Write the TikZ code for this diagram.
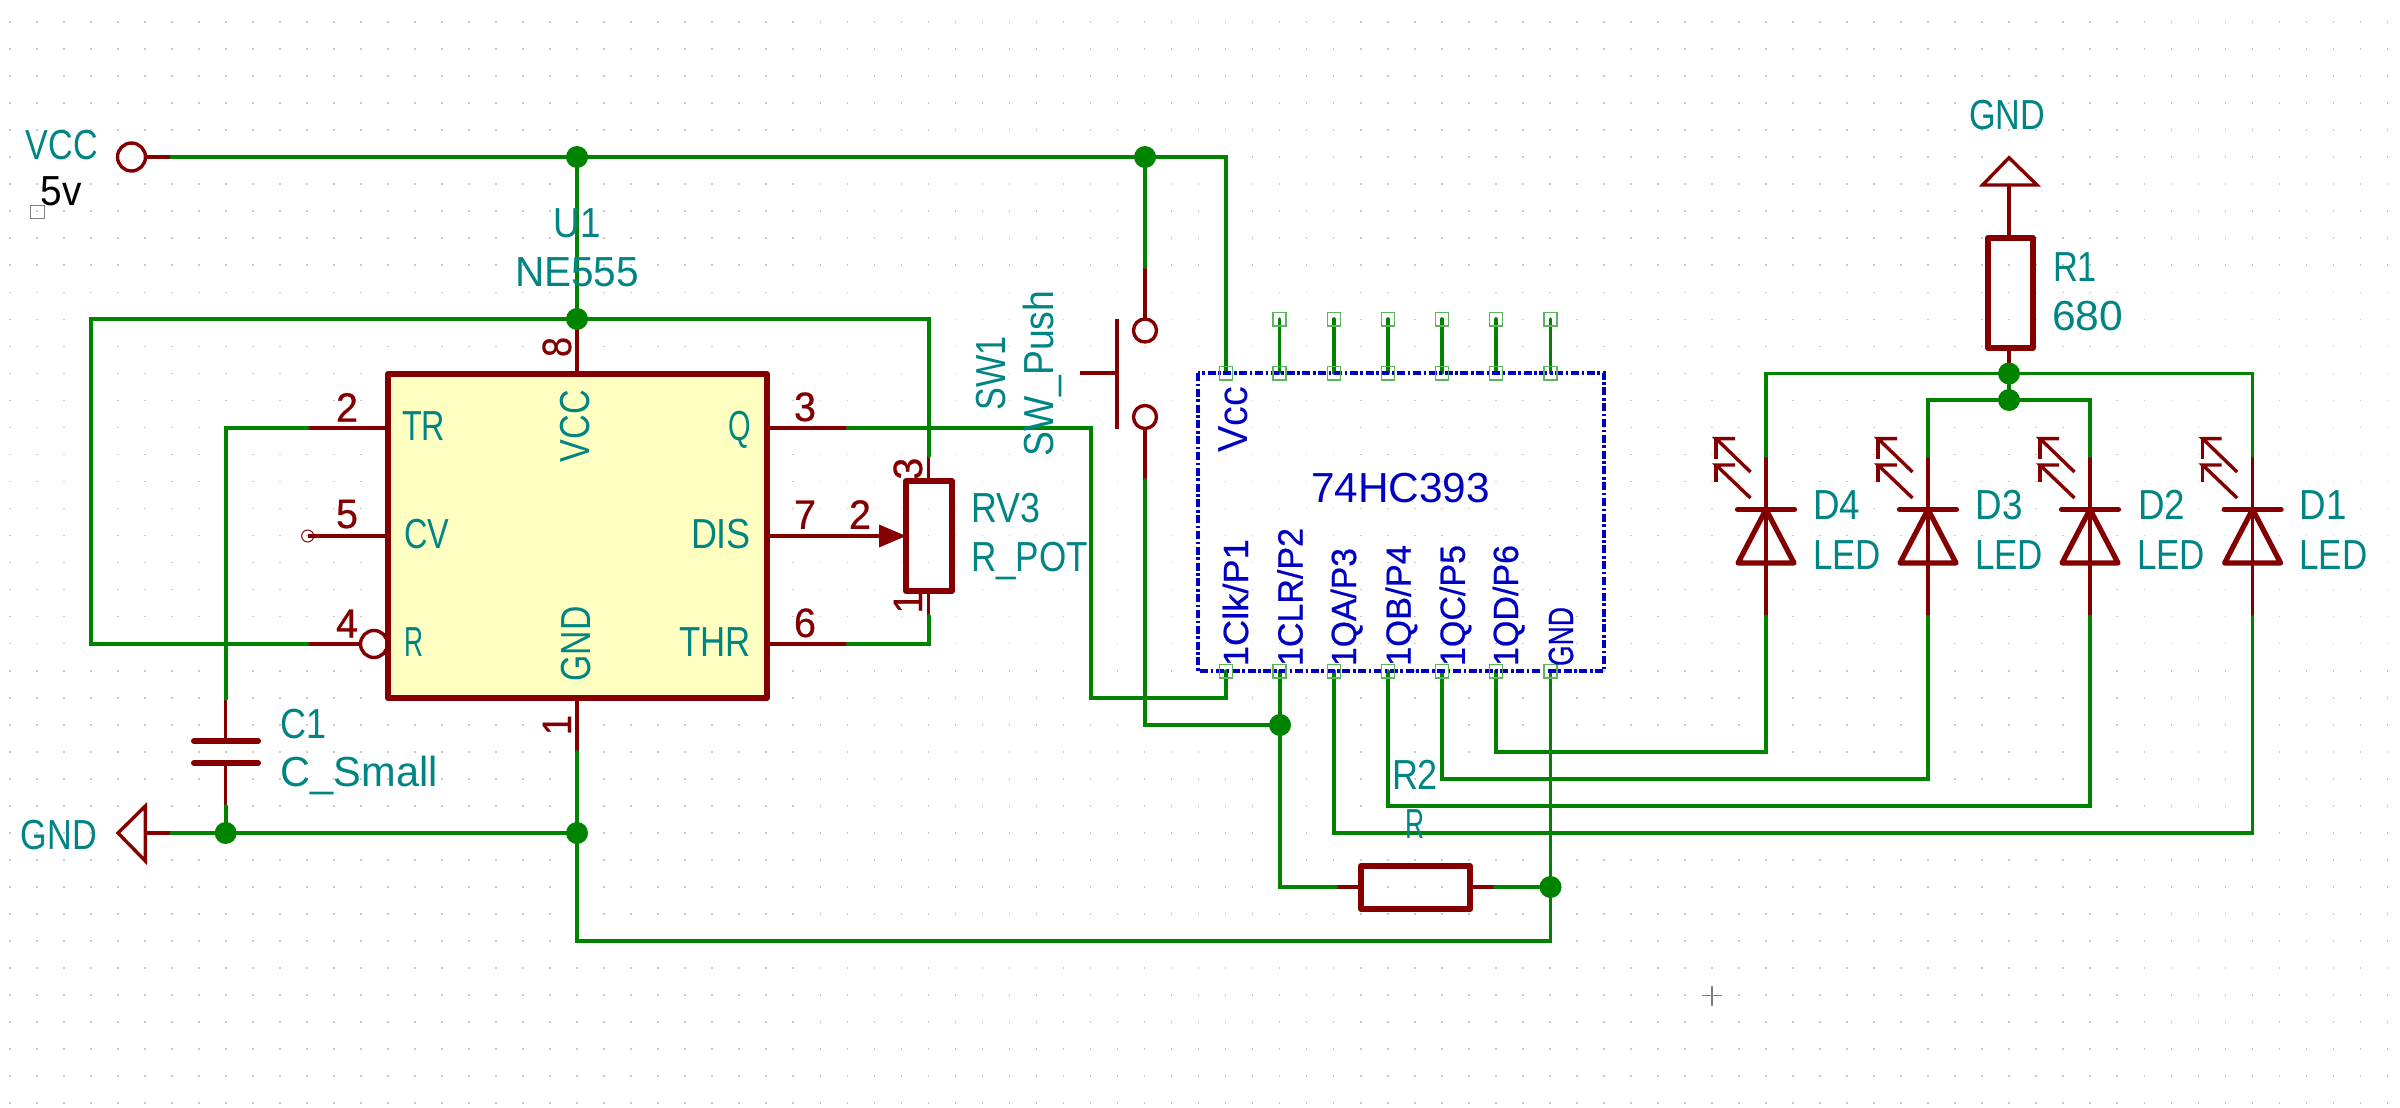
\documentclass[tikz,border=0pt]{standalone}
\usepackage{fontspec}
\usepackage{graphicx}
\setmainfont{Liberation Sans}
\newfontfamily\heavyf[FakeBold=0.6]{Liberation Sans}
\definecolor{kwire}{RGB}{0,132,0}
\definecolor{kred}{RGB}{132,0,0}
\definecolor{kteal}{RGB}{0,132,132}
\definecolor{kblue}{RGB}{0,0,194}
\definecolor{kfill}{RGB}{255,255,194}
\definecolor{kpad}{RGB}{90,180,90}
\definecolor{kdot}{RGB}{200,200,200}
\newdimen\pxu \pxu=0.5pt
\newcommand{\fw}[2]{\resizebox{#1\pxu}{\height}{#2}}
\tikzset{
  wire/.style={draw=kwire,line width=1.8pt,line join=miter,line cap=round},
  pinline/.style={draw=kred,line width=1.6pt},
  body/.style={draw=kred,line width=3pt,line join=round,line cap=round},
  thinbody/.style={draw=kred,line width=1.7pt,line join=miter},
  junct/.style={fill=kwire,draw=none},
  tl/.style={kteal,anchor=base,inner sep=0pt,font=\fontsize{21}{21}\selectfont},
  pn/.style={kred,anchor=base,inner sep=0pt,font=\heavyf\fontsize{20.5}{21}\selectfont},
  bl/.style={kblue,anchor=base,inner sep=0pt,font=\heavyf\fontsize{17.5}{21}\selectfont},
  blbig/.style={kblue,anchor=base,inner sep=0pt,font=\fontsize{21}{21}\selectfont},
  pad/.style={draw=kpad,line width=0.65pt},
}
\begin{document}
\begin{tikzpicture}[x=0.5pt,y=-0.5pt]
\useasboundingbox (0,0) rectangle (2400,1108);
\fill[white] (0,0) rectangle (2400,1108);
% grid
\foreach \i in {0,...,88}{\foreach \j in {0,...,40}{
  \fill[kdot] ({9.7+27.02*\i-0.8},{22+27.03*\j-0.8}) rectangle ++(1.6,1.6);}}
% named points
\coordinate (vccend) at (171.4,157);
\coordinate (jTop) at (577,157);
\coordinate (jSw) at (1145,157);
\coordinate (cVcc) at (1226,157);
\coordinate (pVcc) at (1226,373);
\coordinate (j8) at (577,319);
\coordinate (cRT) at (90.7,319);
\coordinate (cRB) at (90.7,644);
\coordinate (rEnd) at (307.7,644);
\coordinate (cPot) at (928.7,319);
\coordinate (potT) at (928.7,456);
\coordinate (potB) at (928.7,616);
\coordinate (cPotB) at (928.7,644);
\coordinate (thrEnd) at (847.7,644);
\coordinate (trEnd) at (307.7,428);
\coordinate (cTr) at (225.7,428);
\coordinate (capT) at (225.7,699);
\coordinate (capB) at (225.7,806);
\coordinate (jC) at (225.7,833);
\coordinate (gndEnd) at (171.4,833);
\coordinate (jG) at (577,833);
\coordinate (pin1End) at (577,752);
\coordinate (cG) at (577,941);
\coordinate (cG2) at (1550.5,941);
\coordinate (pGnd) at (1550.5,671);
\coordinate (qEnd) at (847.7,428);
\coordinate (cQ) at (1090.7,428);
\coordinate (cQ2) at (1090.7,698);
\coordinate (cQ3) at (1226,698);
\coordinate (pClk) at (1226,671);
\coordinate (swT) at (1145,267);
\coordinate (swB) at (1145,480);
\coordinate (cSw) at (1145,725);
\coordinate (jClr) at (1280,725);
\coordinate (pClr) at (1280,671);
\coordinate (cClr) at (1280,887);
\coordinate (rL) at (1336,887);
\coordinate (rR) at (1495,887);
\coordinate (jR) at (1550.5,887);
\coordinate (pQA) at (1334,671);
\coordinate (pQB) at (1388,671);
\coordinate (pQC) at (1442,671);
\coordinate (pQD) at (1496,671);
\coordinate (cQA) at (1334,833);
\coordinate (cQB) at (1388,806);
\coordinate (cQC) at (1442,779);
\coordinate (cQD) at (1496,752);
\coordinate (d1B) at (2252.6,616.5);
\coordinate (d2B) at (2090,616.5);
\coordinate (d3B) at (1928,616.5);
\coordinate (d4B) at (1766,616.5);
\coordinate (d1T) at (2252.6,456);
\coordinate (d2T) at (2090,456);
\coordinate (d3T) at (1928,456);
\coordinate (d4T) at (1766,456);
\coordinate (cD1) at (2252.6,373.5);
\coordinate (cD4) at (1766,373.5);
\coordinate (cD2) at (2090,400);
\coordinate (cD3) at (1928,400);
\coordinate (j1) at (2009,373.5);
\coordinate (j2) at (2009,400);
\coordinate (r1T) at (2009,238);
\coordinate (r1B) at (2009,348);
\coordinate (gndT) at (2009,185);
% IC box
\draw[body,fill=kfill] (388,374) rectangle (767,698);
% pins U1
\draw[pinline] (j8) -- (577,374);
\draw[pinline] (577,698) -- (pin1End);
\draw[pinline] (trEnd) -- (388,428);
\draw[pinline] (307.7,536) -- (388,536);
\draw[pinline] (rEnd) -- (361,644);
\draw[thinbody] (374,644) circle (13.5);
\draw[pinline] (767,428) -- (qEnd);
\draw[pinline] (767,536) -- (880,536);
\draw[pinline] (767,644) -- (thrEnd);
\draw[draw=kred,line width=0.5pt] (307.7,536) circle (6);
% VCC symbol
\draw[thinbody] (131.5,157) circle (14);
\draw[pinline] (145.5,157) -- (vccend);
% GND left
\draw[thinbody,fill=white] (145.4,806) -- (118,833) -- (145.4,861) -- cycle;
\draw[pinline] (145.4,833) -- (gndEnd);
% C1
\draw[pinline] (capT) -- (225.7,741);
\draw[pinline] (225.7,763) -- (capB);
\draw[draw=kred,line width=3pt,line cap=round] (194,741) -- (258,741);
\draw[draw=kred,line width=3pt,line cap=round] (194,763) -- (258,763);
% Pot
\draw[pinline] (potT) -- (928.7,481);
\draw[pinline] (928.7,591) -- (potB);
\draw[body] (906,481) rectangle (952,591);
\fill[kred] (906,536) -- (879,524.5) -- (879,547.5) -- cycle;
% Switch
\draw[pinline] (swT) -- (1145,319);
\draw[thinbody] (1145,330.5) circle (11.5);
\draw[thinbody] (1145,417) circle (11.5);
\draw[pinline] (1145,428.5) -- (swB);
\draw[pinline] (1117,319) -- (1117,428.5);
\draw[pinline] (1079.6,373) -- (1117,373);
% R (bottom)
\draw[pinline] (rL) -- (1360,887);
\draw[pinline] (1470,887) -- (rR);
\draw[body] (1361,866) rectangle (1470,909);
% R1
\draw[pinline] (gndT) -- (r1T);
\draw[pinline] (r1B) -- (j1);
\draw[body] (1988,238) rectangle (2032.6,348);
\draw[thinbody] (1982.6,185) -- (2009,157.7) -- (2037,185) -- cycle;
% LEDs
\foreach \x in {1766,1928,2090,2252.6}{
  \draw[pinline] (\x,456) -- (\x,616.5);
  \draw[draw=kred,line width=2.6pt,line cap=round,line join=round] (\x-28.5,509.4) -- (\x+28.5,509.4);
  \draw[draw=kred,line width=2.6pt,line cap=round,line join=round] (\x,509.4) -- (\x-28,563) -- (\x+28,563) -- cycle;
  \draw[draw=kred,line width=1.7pt] (\x-15.5,472) -- (\x-50,438.6) -- (\x-31,438.6);
  \draw[draw=kred,line width=1.7pt] (\x-50,438.6) -- (\x-50,459);
  \draw[draw=kred,line width=1.7pt] (\x-15.5,498) -- (\x-50,465) -- (\x-31,465);
  \draw[draw=kred,line width=1.7pt] (\x-50,465) -- (\x-50,482);
}
% wires
\draw[wire] (vccend) -- (jSw) -- (cVcc) -- (pVcc);
\draw[wire] (jTop) -- (j8);
\draw[wire] (j8) -- (cRT) -- (cRB) -- (rEnd);
\draw[wire] (j8) -- (cPot) -- (potT);
\draw[wire] (potB) -- (cPotB) -- (thrEnd);
\draw[wire] (trEnd) -- (cTr) -- (capT);
\draw[wire] (capB) -- (jC);
\draw[wire] (gndEnd) -- (jC) -- (jG);
\draw[wire] (pin1End) -- (jG) -- (cG) -- (cG2) -- (pGnd);
\draw[wire] (qEnd) -- (cQ) -- (cQ2) -- (cQ3) -- (pClk);
\draw[wire] (jSw) -- (swT);
\draw[wire] (swB) -- (cSw) -- (jClr);
\draw[wire] (pClr) -- (jClr) -- (cClr) -- (rL);
\draw[wire] (rR) -- (jR);
\draw[wire] (pQA) -- (cQA) -- (cQA -| d1B) -- (d1B);
\draw[wire] (pQB) -- (cQB) -- (cQB -| d2B) -- (d2B);
\draw[wire] (pQC) -- (cQC) -- (cQC -| d3B) -- (d3B);
\draw[wire] (pQD) -- (cQD) -- (cQD -| d4B) -- (d4B);
\draw[wire] (d4T) -- (cD4) -- (cD1) -- (d1T);
\draw[wire] (d3T) -- (cD3) -- (cD2) -- (d2T);
\draw[wire] (j1) -- (j2);
\foreach \x in {1279.6,1333.7,1388,1441.8,1496,1550.5}{
  \draw[wire] (\x,319) -- (\x,373);
  \draw[pad] (\x-6.5,312.5) rectangle (\x+6.5,326);
}
% 74HC393 sheet
\draw[draw=kblue,line width=1.6pt,dash pattern=on 4pt off 1.3pt on 1.3pt off 1.3pt] (1198,373) rectangle (1604,671);
\foreach \x in {1226,1279.6,1333.7,1388,1441.8,1496,1550.5}{
  \draw[pad] (\x-6.5,366.5) rectangle (\x+6.5,380);
  \draw[pad] (\x-6.5,664.5) rectangle (\x+6.5,678);
}
% junctions
\foreach \p in {jTop,jSw,j8,jC,jG,jClr,jR,j1,j2}{
  \fill[junct] (\p) circle (11);
}
% free square and cursor
\draw[draw=gray,line width=0.5pt] (30.6,205) rectangle (44,218);
\draw[draw=gray,line width=0.6pt] (1702,995.7) -- (1722,995.7);
\draw[draw=gray,line width=0.6pt] (1712,986) -- (1712,1005.5);
% texts
\node[tl] (tVCC) at (61.7,159) {\fw{72}{VCC}};
\node[black,anchor=base,inner sep=0pt,font=\fontsize{21}{21}\selectfont] (t5v) at (61.3,205) {\fw{41}{5v}};
\node[tl] (tU1) at (577,237) {\fw{47}{U1}};
\node[tl] (tNE) at (577,286) {\fw{124}{NE555}};
\node[tl] (tGNDl) at (59,849) {\fw{76}{GND}};
\node[tl] (tC1) at (303.5,738) {\fw{46}{C1}};
\node[tl] (tCs) at (359.3,786.7) {\fw{157}{C\_Small}};
\node[tl] (tTR) at (423.5,440) {\fw{43}{TR}};
\node[tl] (tCV) at (426.5,548) {\fw{45}{CV}};
\node[tl] (tR) at (414,656.7) {\fw{19}{R}};
\node[tl] (tQ) at (740,440) {\fw{22.5}{Q}};
\node[tl] (tDIS) at (721,548) {\fw{60}{DIS}};
\node[tl] (tTHR) at (715.3,656.7) {\fw{71.5}{THR}};
\node[tl,rotate=90] (tVCCi) at (589,426) {\fw{72}{VCC}};
\node[tl,rotate=90] (tGNDi) at (590,644) {\fw{75}{GND}};
\node[pn,rotate=90] (n8) at (571,347) {\fw{20}{8}};
\node[pn,rotate=90] (n1) at (571,725) {\fw{20}{1}};
\node[pn] (n2) at (347,421.7) {\fw{22}{2}};
\node[pn] (n5) at (347,528) {\fw{22}{5}};
\node[pn] (n4) at (347,637.7) {\fw{22}{4}};
\node[pn] (n3) at (805,421) {\fw{22}{3}};
\node[pn] (n7) at (805,528.8) {\fw{22}{7}};
\node[pn] (n6) at (805,637) {\fw{22}{6}};
\node[pn] (np2) at (860,528.8) {\fw{22}{2}};
\node[pn,rotate=90] (np3) at (922,468.7) {\fw{22}{3}};
\node[pn,rotate=90] (np1) at (922,602.6) {\fw{22}{1}};
\node[tl] (tRV) at (1005.5,522) {\fw{69}{RV3}};
\node[tl] (tRP) at (1029.5,571) {\fw{117}{R\_POT}};
\node[tl,rotate=90] (tSW) at (1005.6,373.6) {\fw{74}{SW1}};
\node[tl,rotate=90] (tSWP) at (1053.6,373.8) {\fw{166}{SW\_Push}};
\node[blbig] (t74) at (1400.5,502) {\fw{179}{74HC393}};
\node[blbig,rotate=90] (tVcc) at (1247.4,419.5) {\fw{66}{Vcc}};
\node[bl,rotate=90] (p1) at (1248,602.7) {\fw{127}{1Clk/P1}};
\node[bl,rotate=90] (p2) at (1302.5,597) {\fw{138}{1CLR/P2}};
\node[bl,rotate=90] (p3) at (1356,607) {\fw{118}{1QA/P3}};
\node[bl,rotate=90] (p4) at (1410.7,605.5) {\fw{121}{1QB/P4}};
\node[bl,rotate=90] (p5) at (1464.8,605.5) {\fw{121}{1QC/P5}};
\node[bl,rotate=90] (p6) at (1518,605.5) {\fw{121}{1QD/P6}};
\node[bl,rotate=90] (p7) at (1573,636.5) {\fw{59}{GND}};
\node[tl] (tR2) at (1415,789) {\fw{46}{R2}};
\node[tl] (tRb) at (1415,838) {\fw{19}{R}};
\node[tl] (tGNDt) at (2007,129) {\fw{76}{GND}};
\node[tl] (tR1) at (2075,281) {\fw{44}{R1}};
\node[tl] (t680) at (2087.5,330.7) {\fw{71}{680}};
\node[tl] (tD4) at (1836.5,519) {\fw{47}{D4}};
\node[tl] (tL4) at (1847,569) {\fw{68}{LED}};
\node[tl] (tD3) at (1999,519) {\fw{47}{D3}};
\node[tl] (tL3) at (2009,569) {\fw{68}{LED}};
\node[tl] (tD2) at (2161.5,519) {\fw{47}{D2}};
\node[tl] (tL2) at (2171,569) {\fw{68}{LED}};
\node[tl] (tD1) at (2323,519) {\fw{47}{D1}};
\node[tl] (tL1) at (2333.5,569) {\fw{68}{LED}};
\end{tikzpicture}
\end{document}
